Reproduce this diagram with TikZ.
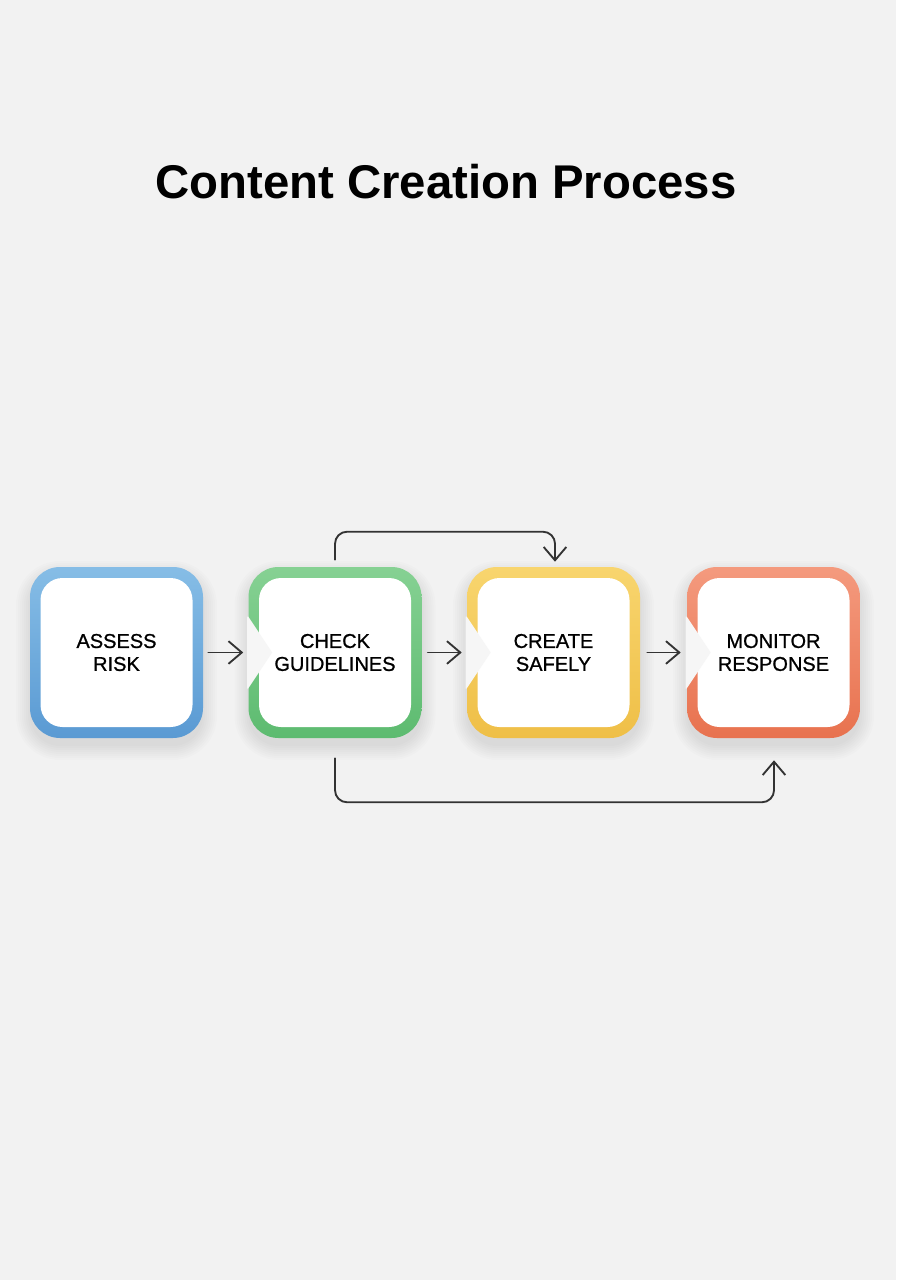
\documentclass[tikz,border=0pt]{standalone}
\usepackage{fontspec}
\setmainfont{Liberation Sans}
\newfontfamily\boxfont{Liberation Sans}[FakeBold=0.9]
\usetikzlibrary{arrows.meta,calc}
\definecolor{bgc}{HTML}{F2F2F2}
\definecolor{linec}{HTML}{333333}
\definecolor{notchc}{HTML}{F6F6F6}
\definecolor{blueT}{HTML}{86BDE6}\definecolor{blueB}{HTML}{5A9AD3}
\definecolor{greenT}{HTML}{86D193}\definecolor{greenB}{HTML}{5DBB70}
\definecolor{yellowT}{HTML}{F8D56E}\definecolor{yellowB}{HTML}{EFBF47}
\definecolor{redT}{HTML}{F49A7E}\definecolor{redB}{HTML}{E8724F}
\tikzset{
  outerbox/.style={rectangle, minimum width=129.75pt, minimum height=128.25pt,
    rounded corners=22.5pt, inner sep=0pt},
  innerbox/.style={rectangle, fill=white, minimum width=114pt, minimum height=111.75pt,
    rounded corners=16.5pt, inner sep=0pt, align=center,
    font=\boxfont\fontsize{15}{17.2}\selectfont, text=black},
  notch/.style={fill=notchc, draw=none},
  softshadow/.style={fill=black, fill opacity=0.012, draw=none},
  arr/.style={draw=linec, line width=1.4pt, line cap=round, line join=round,
    -{Straight Barb[length=10pt, width=17pt, line width=1.4pt]}},
  loop/.style={arr, rounded corners=9pt},
}
\begin{document}
\begin{tikzpicture}[x=0.75pt, y=-0.75pt]
\fill[bgc] (0,0) rectangle (896,1280);
\useasboundingbox (0,0) rectangle (896,1280);

\node[font=\fontsize{35.5}{40}\selectfont\bfseries, text=black] (title) at (446,182) {Content Creation Process};

% soft shadows under the boxes
\foreach \cx in {116.5,335,553.5,773.5}{
  \foreach \r in {0,2,...,14}{
    \fill[softshadow, rounded corners={(30+\r)*0.75pt}]
      (\cx-86.5-\r, 575-\r) rectangle (\cx+86.5+\r, 746+\r);
  }
}

% boxes
\node[outerbox, top color=blueT, bottom color=blueB] (b1) at (116.5,652.5) {};
\node[outerbox, top color=greenT, bottom color=greenB] (b2) at (335,652.5) {};
\node[outerbox, top color=yellowT, bottom color=yellowB] (b3) at (553.5,652.5) {};
\node[outerbox, top color=redT, bottom color=redB] (b4) at (773.5,652.5) {};

\node[innerbox] (t1) at (b1) {ASSESS\\RISK};
\node[innerbox] (t2) at (b2) {CHECK\\GUIDELINES};
\node[innerbox] (t3) at (b3) {CREATE\\SAFELY};
\node[innerbox] (t4) at (b4) {MONITOR\\RESPONSE};

% notches
\foreach \b in {b2,b3,b4}{
  \fill[notch] ($(\b.west)+(-1,-36)$) -- ($(\b.west)+(0,-36)$) -- ($(\b.west)+(24,0)$) -- ($(\b.west)+(0,36)$) -- ($(\b.west)+(-1,36)$) -- cycle;
}

% straight connectors
\draw[arr] ($(b1.east)+(5,0)$) -- ($(b2.west)+(-5,0)$);
\draw[arr] ($(b2.east)+(6,0)$) -- ($(b3.west)+(-5,0)$);
\draw[arr] ($(b3.east)+(7,0)$) -- ($(b4.west)+(-6,0)$);

% loop connectors
\draw[loop] ($(b2.north)+(0,-7)$) -- ++(0,-28) -| ($(b3.north)+(1.5,-5)$);
\draw[loop] ($(b2.south)+(0,20)$) -- ++(0,44) -| ($(b4.south)+(0.5,22)$);
\end{tikzpicture}
\end{document}
